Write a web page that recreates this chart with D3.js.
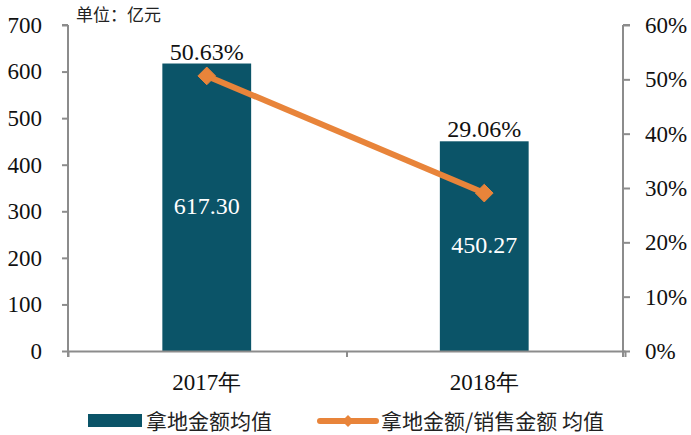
<!DOCTYPE html>
<html><head><meta charset="utf-8">
<script src="https://cdn.jsdelivr.net/npm/d3@7"></script>
<style>body{margin:0;background:#fff}</style>
</head><body>
<svg id="c" width="691" height="435"></svg>
<script>
const categories = ["2017年", "2018年"];
const amounts = [617.30, 450.27];
const ratios = [0.5063, 0.2906];
const amountLabels = ["617.30", "450.27"];
const ratioLabels = ["50.63%", "29.06%"];
const leftTicks = [0, 100, 200, 300, 400, 500, 600, 700];
const rightTicks = [0, 0.1, 0.2, 0.3, 0.4, 0.5, 0.6];
const seriesNames = ["拿地金额均值", "拿地金额/销售金额 均值"];
const unitText = "单位：亿元";

const svg = d3.select("#c");
const m = {l: 68, r: 623, t: 25, b: 351};
const font = "'Liberation Serif','Times New Roman',serif";
const cjk = "'Noto Sans CJK SC','Liberation Serif',sans-serif";
const barColor = "#0b5468", lineColor = "#e8843a", axisColor = "#8c8c8c";

const x = d3.scaleBand().domain(categories).range([m.l, m.r]).paddingInner(0.68).paddingOuter(0.34);
const yL = d3.scaleLinear().domain([0, 700]).range([m.b, m.t]);
const yR = d3.scaleLinear().domain([0, 0.6]).range([m.b, m.t]);

// bars
svg.selectAll("rect.bar").data(amounts).join("rect").attr("class","bar")
  .attr("x",(d,i)=>x(categories[i])).attr("width",x.bandwidth())
  .attr("y",d=>yL(d)).attr("height",d=>yL(0)-yL(d)).attr("fill",barColor);

// axes
const axL = svg.append("g").attr("transform",`translate(${m.l},0)`)
  .call(d3.axisLeft(yL).tickValues(leftTicks).tickSize(6).tickSizeOuter(0).tickPadding(20));
const axR = svg.append("g").attr("transform",`translate(${m.r},0)`)
  .call(d3.axisRight(yR).tickValues(rightTicks).tickSize(7).tickSizeOuter(0).tickPadding(15).tickFormat(d3.format(".0%")));
const xb = d3.scaleLinear().domain([0, 2]).range([m.l, m.r + 2]);
const axB = svg.append("g").attr("transform",`translate(0,${m.b})`)
  .call(d3.axisBottom(xb).tickValues([0,1,2]).tickSize(6).tickSizeOuter(0).tickFormat(""));
[axL, axR, axB].forEach(g=>{
  g.attr("font-family",font).attr("font-size",23);
  g.select(".domain").attr("stroke",axisColor).attr("stroke-width",2);
  g.selectAll(".tick line").attr("stroke",axisColor).attr("stroke-width",2);
  g.selectAll("text").attr("font-family",font).attr("font-size",23).attr("fill","#111");
});
axL.select(".domain").attr("d",`M0,${m.t}H-6M0,${m.t}V${m.b+6}`);
axR.select(".domain").attr("d",`M0,${m.t}H7M0,${m.t}V${m.b+6}`);

// category labels
svg.selectAll("text.cat").data(categories).join("text").attr("class","cat")
  .attr("x",d=>x(d)+x.bandwidth()/2).attr("y",390).attr("text-anchor","middle")
  .attr("font-family",font).attr("font-size",23).attr("fill","#111").text(d=>d);

// line
const cx = (i)=>x(categories[i])+x.bandwidth()/2;
svg.append("path").datum(ratios)
  .attr("d",d3.line().x((d,i)=>cx(i)).y(d=>yR(d)))
  .attr("fill","none").attr("stroke",lineColor).attr("stroke-width",6);
svg.selectAll("path.mk").data(ratios).join("path").attr("class","mk")
  .attr("transform",(d,i)=>`translate(${cx(i)},${yR(d)})`)
  .attr("d",d3.symbol(d3.symbolDiamond2, 200)).attr("fill",lineColor).attr("stroke",lineColor).attr("stroke-width",1);

// labels
svg.selectAll("text.rl").data(ratios).join("text").attr("class","rl")
  .attr("x",(d,i)=>cx(i)).attr("y",(d,i)=>yL(amounts[i])-4).attr("text-anchor","middle")
  .attr("font-family",font).attr("font-size",24).attr("fill","#111").text((d,i)=>ratioLabels[i]);
svg.selectAll("text.al").data(amounts).join("text").attr("class","al")
  .attr("x",(d,i)=>cx(i)).attr("y",(d,i)=>yL(d/2)+7).attr("text-anchor","middle")
  .attr("font-family",font).attr("font-size",24).attr("fill","#fff").text((d,i)=>amountLabels[i]);

// unit
svg.append("text").attr("x",76).attr("y",21).attr("font-family",cjk).attr("font-size",17)
  .attr("fill","#222").text(unitText);

// legend
svg.append("rect").attr("x",88).attr("y",414).attr("width",54).attr("height",13).attr("fill",barColor);
svg.append("text").attr("x",146).attr("y",429).attr("font-family",cjk).attr("font-size",21).attr("fill","#222").text(seriesNames[0]);
svg.append("line").attr("x1",320).attr("x2",376).attr("y1",421).attr("y2",421).attr("stroke",lineColor).attr("stroke-width",6).attr("stroke-linecap","round");
svg.append("path").attr("transform","translate(348,421)").attr("d",d3.symbol(d3.symbolDiamond2,90)).attr("fill",lineColor);
svg.append("text").attr("x",381).attr("y",429).attr("font-family",cjk).attr("font-size",21).attr("fill","#222").text(seriesNames[1]);
</script>
</body></html>
